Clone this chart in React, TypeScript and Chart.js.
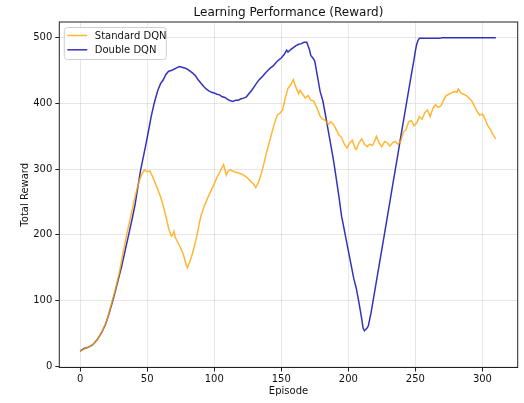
import React, { useEffect, useRef } from "react";
import { Chart, registerables } from "chart.js";

Chart.register(...registerables);

// Episode numbers and smoothed rewards for each agent
const stdEpisodes = [
  0, 3, 6, 9, 12, 14, 17, 20, 23, 26, 29, 32, 35, 38, 41, 44, 46, 48, 50, 52,
  54, 57, 60, 62, 64, 66, 68, 69, 70, 71, 73, 75, 77, 79, 80, 82, 84, 87, 90, 93,
  96, 99, 102, 105, 107, 109, 110, 112, 115, 118, 121, 124, 126, 129, 131, 133, 135, 137, 139, 142,
  145, 147, 149, 151, 153, 155, 157, 159, 161, 163, 164, 166, 168, 170, 172, 174, 176, 178, 179, 181,
  183, 185, 187, 189, 191, 193, 195, 197, 199, 201, 203, 205, 206, 208, 210, 212, 214, 216, 218, 220,
  221, 223, 225, 227, 229, 231, 233, 235, 237, 239, 241, 243, 245, 247, 249, 251, 253, 255, 257, 259,
  261, 263, 265, 267, 269, 271, 273, 275, 277, 279, 281, 282, 284, 286, 288, 290, 292, 294, 296, 298,
  300, 302, 304, 306, 308, 310,
];
const stdReward = [
  23, 26, 29, 32, 38, 44, 56, 70, 92, 115, 140, 172, 203, 230, 258, 282, 292, 299, 296, 297,
  289, 274, 258, 244, 228, 210, 198, 200, 205, 196, 188, 180, 170, 155, 150, 160, 173, 198, 228, 246,
  260, 273, 287, 299, 307, 291, 296, 299, 296, 294, 292, 288, 284, 278, 272, 280, 292, 308, 325, 348,
  370, 382, 385, 390, 408, 423, 428, 436, 424, 415, 420, 414, 408, 412, 405, 404, 396, 386, 380, 376,
  374, 368, 372, 368, 360, 352, 348, 338, 332, 340, 344, 332, 330, 340, 346, 338, 334, 338, 336, 344,
  350, 340, 334, 342, 340, 335, 340, 342, 338, 342, 356, 360, 372, 374, 366, 370, 380, 376, 386, 390,
  380, 392, 398, 394, 396, 405, 412, 414, 416, 418, 417, 422, 416, 414, 412, 408, 404, 396, 388, 382,
  384, 376, 366, 360, 352, 346,
];

const dblEpisodes = [
  0, 3, 6, 9, 11, 13, 16, 19, 21, 24, 26, 28, 31, 34, 36, 39, 41, 43, 45, 47,
  49, 51, 53, 55, 56, 58, 60, 62, 64, 66, 68, 70, 72, 74, 76, 78, 80, 82, 84, 86,
  88, 90, 92, 94, 96, 98, 100, 102, 104, 106, 108, 110, 112, 114, 116, 118, 120, 122, 124, 126,
  128, 130, 132, 134, 136, 138, 140, 142, 144, 146, 148, 150, 152, 154, 155, 157, 159, 161, 163, 165,
  167, 169, 171, 172, 174, 175, 177, 179, 181, 183, 185, 187, 189, 191, 193, 195, 196, 198, 200, 202,
  204, 206, 208, 210, 211, 212, 214, 215, 217, 219, 221, 223, 225, 227, 229, 231, 233, 235, 237, 239,
  241, 243, 245, 247, 249, 250, 251, 252, 253, 255, 268, 270, 290, 310,
];
const dblReward = [
  23, 27, 29, 32, 36, 41, 51, 64, 76, 97, 112, 128, 152, 180, 198, 226, 246, 272, 297, 317,
  337, 358, 380, 398, 406, 420, 430, 436, 444, 449, 450, 452, 454, 456, 455, 454, 452, 449, 446, 442,
  436, 431, 426, 422, 419, 417, 416, 414, 413, 410, 409, 406, 404, 403, 405, 405, 407, 408, 410, 415,
  420, 426, 432, 437, 441, 446, 450, 454, 457, 462, 466, 469, 474, 481, 478, 482, 485, 488, 490, 491,
  493, 493, 482, 473, 468, 464, 441, 418, 404, 382, 359, 336, 313, 286, 258, 228, 218, 197, 176, 155,
  134, 118, 96, 72, 58, 54, 58, 62, 82, 106, 130, 154, 178, 202, 226, 250, 275, 299, 323, 348,
  372, 396, 420, 444, 467, 480, 490, 496, 499, 499, 499, 500, 500, 500,
];

const xTicks = [0, 50, 100, 150, 200, 250, 300];
const yTicks = [0, 100, 200, 300, 400, 500];

const seriesLabels = ["Standard DQN", "Double DQN"];
const seriesColors = ["rgba(255,165,0,0.8)", "rgba(0,0,170,0.8)"];

const titleText = "Learning Performance (Reward)";
const xTitle = "Episode";
const yTitle = "Total Reward";

const FONT = '"DejaVu Sans", "Liberation Sans", sans-serif';

// Frame, titles and the legend drawn on top of the plot
const decorations = {
  id: "decorations",
  afterDraw(chart: any) {
    const { ctx, chartArea } = chart;
    const { left, right, top, bottom } = chartArea;
    ctx.save();

    ctx.strokeStyle = "#222";
    ctx.lineWidth = 1;
    ctx.strokeRect(left, top, right - left, bottom - top);

    ctx.fillStyle = "#111";
    ctx.textAlign = "center";
    ctx.textBaseline = "middle";
    ctx.font = `12px ${FONT}`;
    ctx.fillText(titleText, (left + right) / 2, 12.5);

    ctx.font = `10px ${FONT}`;
    ctx.fillText(xTitle, (left + right) / 2, 391.5);

    ctx.save();
    ctx.translate(25, (top + bottom) / 2);
    ctx.rotate(-Math.PI / 2);
    ctx.fillText(yTitle, 0, 0);
    ctx.restore();

    // legend box
    const lx = left + 5;
    const ly = top + 5.5;
    const lw = 102;
    const lh = 32;
    ctx.beginPath();
    ctx.roundRect(lx, ly, lw, lh, 3);
    ctx.fillStyle = "rgba(255,255,255,0.85)";
    ctx.fill();
    ctx.strokeStyle = "#d0d0d0";
    ctx.lineWidth = 1;
    ctx.stroke();

    chart.data.datasets.forEach((ds: any, i: number) => {
      const y = ly + 8 + i * 14.3;
      ctx.beginPath();
      ctx.moveTo(lx + 3, y);
      ctx.lineTo(lx + 23, y);
      ctx.strokeStyle = ds.borderColor;
      ctx.lineWidth = 1.5;
      ctx.stroke();
      ctx.fillStyle = "#111";
      ctx.textAlign = "left";
      ctx.textBaseline = "middle";
      ctx.font = `10px ${FONT}`;
      ctx.fillText(ds.label, lx + 30.5, y + 0.5);
    });

    ctx.restore();
  },
};

export default function App() {
  const canvasRef = useRef<HTMLCanvasElement | null>(null);

  useEffect(() => {
    const canvas = canvasRef.current;
    if (!canvas) return;

    const chart = new Chart(canvas, {
      type: "line",
      data: {
        datasets: [
          {
            label: seriesLabels[0],
            data: stdEpisodes.map((e, i) => ({ x: e, y: stdReward[i] })),
            borderColor: seriesColors[0],
            borderWidth: 1.5,
            pointRadius: 0,
            tension: 0,
          },
          {
            label: seriesLabels[1],
            data: dblEpisodes.map((e, i) => ({ x: e, y: dblReward[i] })),
            borderColor: seriesColors[1],
            borderWidth: 1.5,
            pointRadius: 0,
            tension: 0,
          },
        ],
      },
      options: {
        responsive: false,
        animation: false,
        devicePixelRatio: 1,
        layout: { padding: { top: 22, right: 6.3, left: 0, bottom: 0 } },
        plugins: {
          legend: { display: false },
          title: { display: false },
          tooltip: { enabled: false },
        },
        scales: {
          x: {
            type: "linear",
            min: -15.5,
            max: 326.3,
            afterBuildTicks: (s: any) => {
              s.ticks = xTicks.map((v) => ({ value: v }));
            },
            afterFit: (s: any) => {
              s.height = 35.5;
            },
            border: { display: false },
            grid: {
              color: "rgba(176,176,176,0.3)",
              lineWidth: 1,
              tickColor: "#222",
              tickLength: 4,
              tickWidth: 1,
            },
            ticks: {
              color: "#111",
              font: { family: FONT, size: 10 },
              padding: 2,
              maxRotation: 0,
            },
          },
          y: {
            type: "linear",
            min: -1.9,
            max: 523.9,
            afterBuildTicks: (s: any) => {
              s.ticks = yTicks.map((v) => ({ value: v }));
            },
            afterFit: (s: any) => {
              s.width = 59.3;
            },
            border: { display: false },
            grid: {
              color: "rgba(176,176,176,0.3)",
              lineWidth: 1,
              tickColor: "#222",
              tickLength: 4,
              tickWidth: 1,
            },
            ticks: {
              color: "#111",
              font: { family: FONT, size: 10 },
              padding: 3,
            },
          },
        },
      },
      plugins: [decorations],
    });

    return () => chart.destroy();
  }, []);

  return (
    <div style={{ position: "absolute", left: 0, top: 0, width: 524, height: 403, background: "#fff" }}>
      <canvas ref={canvasRef} width={524} height={403} style={{ display: "block" }} />
    </div>
  );
}
